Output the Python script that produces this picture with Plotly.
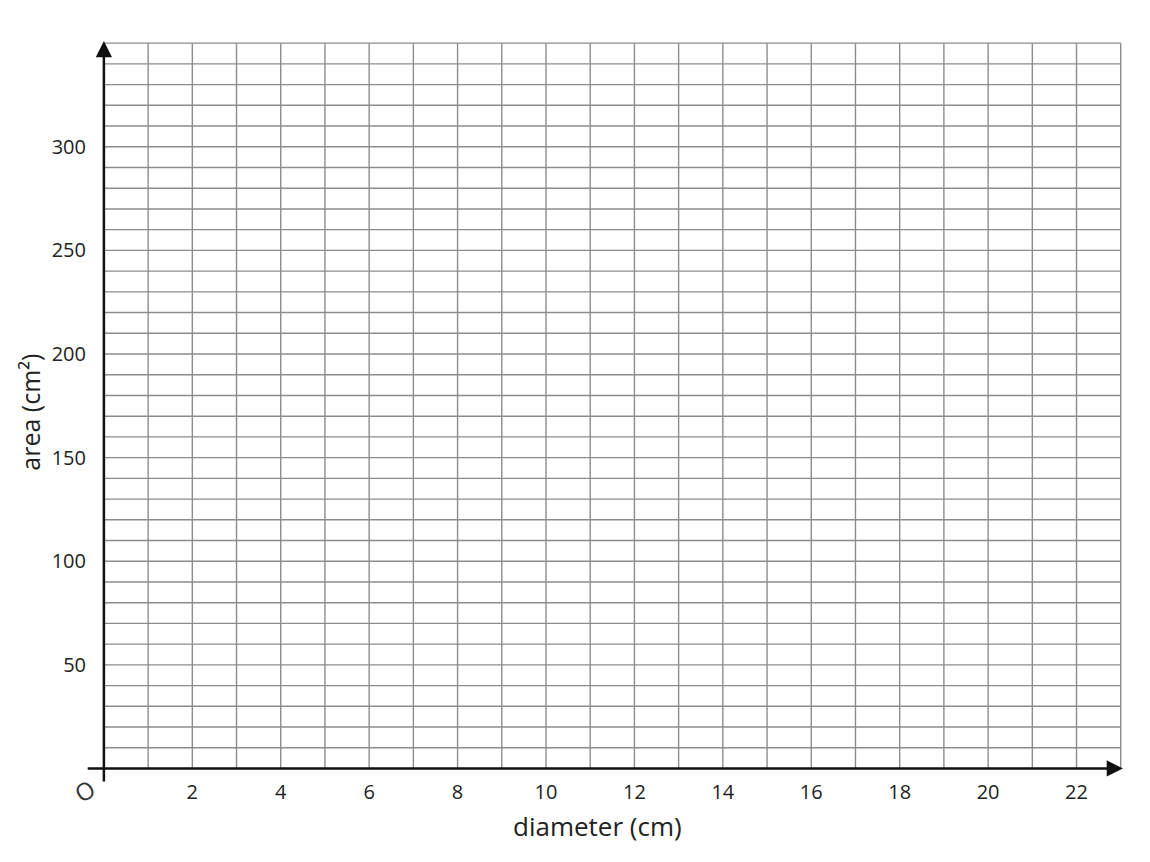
import plotly.graph_objects as go

# blank grid for plotting area vs diameter
x_ticks = [2, 4, 6, 8, 10, 12, 14, 16, 18, 20, 22]
y_ticks = [50, 100, 150, 200, 250, 300]
x_max = 23
y_max = 350
x_step = 1
y_step = 10

x_title = "diameter (cm)"
y_title = "area (cm²)"

GRID = "#8c8c8c"
AXIS = "#111111"
TEXT = "#222222"
FONT = "Open Sans"

# grid lines as one trace with gaps
gx, gy = [], []
for i in range(1, int(x_max / x_step) + 1):
    gx += [i * x_step, i * x_step, None]
    gy += [0, y_max, None]
for j in range(1, int(y_max / y_step) + 1):
    gx += [0, x_max, None]
    gy += [j * y_step, j * y_step, None]

fig = go.Figure()
fig.add_trace(go.Scatter(x=gx, y=gy, mode="lines", line=dict(color=GRID, width=1.4),
                         hoverinfo="skip", showlegend=False))

# axes with arrows
fig.add_annotation(x=x_max + 0.05, y=0, ax=-0.4, ay=0, xref="x", yref="y", axref="x", ayref="y",
                   text="", showarrow=True, arrowhead=2, arrowsize=1.3, arrowwidth=2.5, arrowcolor=AXIS)
fig.add_annotation(x=0, y=y_max + 1, ax=0, ay=-7, xref="x", yref="y", axref="x", ayref="y",
                   text="", showarrow=True, arrowhead=2, arrowsize=1.3, arrowwidth=2.5, arrowcolor=AXIS)

# origin label
fig.add_annotation(x=-0.43, y=0, xref="x", yref="paper", yanchor="middle", yshift=-7, text="O",
                   showarrow=False, font=dict(family=FONT, size=24, color="#333"), textangle=-30)

# axis titles
fig.add_annotation(x=0.4895, y=-0.058, xref="paper", yref="paper", text=x_title, showarrow=False,
                   xanchor="center", yanchor="middle", font=dict(family=FONT, size=26, color=TEXT))
fig.add_annotation(x=-0.0515, y=0.499, xref="paper", yref="paper", text=y_title, showarrow=False,
                   xanchor="center", yanchor="middle", textangle=-90, borderpad=0,
                   font=dict(family=FONT, size=25, color=TEXT))

fig.update_xaxes(range=[-0.45, 23.3], tickvals=x_ticks, showgrid=False, zeroline=False,
                 showline=False, ticks="", ticklabelstandoff=-5,
                 tickfont=dict(family=FONT, size=20, color=TEXT))
fig.update_yaxes(range=[-7, 352], tickvals=y_ticks, showgrid=False, zeroline=False,
                 showline=False, ticks="", ticklabelstandoff=-3,
                 tickfont=dict(family=FONT, size=20, color=TEXT))

fig.update_layout(width=1150, height=862, plot_bgcolor="white", paper_bgcolor="white",
                  margin=dict(l=76, r=24, t=31, b=87), showlegend=False)

fig.write_html("out.html")
